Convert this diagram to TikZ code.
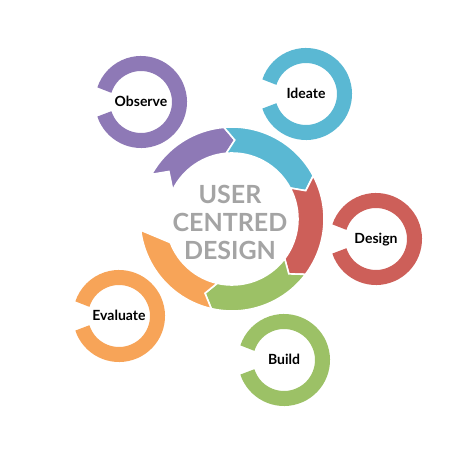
\documentclass[tikz,border=0pt]{standalone}
\usepackage{fontspec}
\setmainfont{Lato}
\definecolor{ucdpurple}{HTML}{8E79B6}
\definecolor{ucdblue}{HTML}{5AB8D3}
\definecolor{ucdred}{HTML}{CD5F59}
\definecolor{ucdgreen}{HTML}{9CC166}
\definecolor{ucdorange}{HTML}{F7A458}
\definecolor{ucdgray}{HTML}{A4A4A4}

\begin{document}
\begin{tikzpicture}[x=1pt,y=1pt,
   arrowseg/.style={fill=#1,draw=white,line width=1.6pt,line join=miter},
   openring/.style={draw=#1,line width=15pt},
   stagelabel/.style={font=\fontsize{14}{16}\selectfont\bfseries,
      text height=10pt,text depth=0pt,inner sep=0pt}]
\useasboundingbox[fill=white] (0,0) rectangle (474,474);
% centre cycle
\begin{scope}[shift={(232,255)}]
  \draw[arrowseg=ucdpurple] (151:92) arc[start angle=151,end angle=95,radius=92]
     -- (88:79) -- (95:66) arc[start angle=95,end angle=154,radius=66]
     -- (143:79) -- cycle;
  \draw[arrowseg=ucdblue] (95:92) arc[start angle=95,end angle=28,radius=92]
     -- (21:79) -- (28:66) arc[start angle=28,end angle=95,radius=66]
     -- (88:79) -- cycle;
  \draw[arrowseg=ucdred] (28:92) arc[start angle=28,end angle=-37,radius=92]
     -- (-44:79) -- (-37:66) arc[start angle=-37,end angle=28,radius=66]
     -- (21:79) -- cycle;
  \draw[arrowseg=ucdgreen] (-37:92) arc[start angle=-37,end angle=-103,radius=92]
     -- (-110:79) -- (-103:66) arc[start angle=-103,end angle=-37,radius=66]
     -- (-44:79) -- cycle;
  \draw[arrowseg=ucdorange] (-103:92) arc[start angle=-103,end angle=-173,radius=92]
     -- (-159:66) arc[start angle=-159,end angle=-103,radius=66]
     -- (-110:79) -- cycle;
\end{scope}
\node[align=center,text=ucdgray,font=\fontsize{25}{28}\selectfont\bfseries] (ucd) at (230,252)
   {USER\\CENTRED\\DESIGN};

% stages
\node[stagelabel] (observe) at (141,372) {Observe};
\node[stagelabel] (ideate) at (306,380) {Ideate};
\node[stagelabel] (design) at (376,235) {Design};
\node[stagelabel] (build) at (284,114) {Build};
\node[stagelabel] (evaluate) at (119,158) {Evaluate};
\draw[openring=ucdpurple] (observe.center) ++(198:38.5) arc[start angle=198,end angle=522,radius=38.5];
\draw[openring=ucdblue] (ideate.center) ++(198:38.5) arc[start angle=198,end angle=522,radius=38.5];
\draw[openring=ucdred] (design.center) ++(198:38.5) arc[start angle=198,end angle=522,radius=38.5];
\draw[openring=ucdgreen] (build.center) ++(198:38.5) arc[start angle=198,end angle=522,radius=38.5];
\draw[openring=ucdorange] (evaluate.center) ++(198:38.5) arc[start angle=198,end angle=522,radius=38.5];
\end{tikzpicture}
\end{document}
